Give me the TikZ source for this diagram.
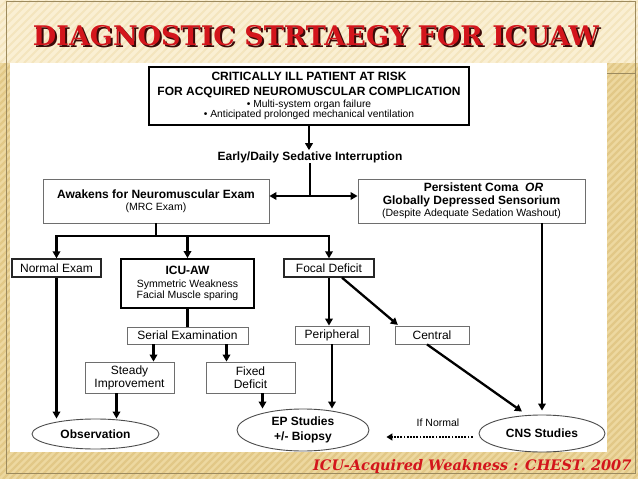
\documentclass[tikz,border=0pt]{standalone}
\usepackage{fontspec}
\setmainfont{Liberation Sans}
\newfontfamily\titlefont{DejaVu Serif}
\usetikzlibrary{arrows.meta,shapes.geometric}
\definecolor{bgcream}{HTML}{FAEFD3}
\definecolor{topstripe}{HTML}{F4E5BE}
\definecolor{bandgold}{HTML}{EDD8A0}
\definecolor{bandstripe}{HTML}{E2C887}
\definecolor{framec}{HTML}{9C8A5E}
\definecolor{titlered}{HTML}{D3151C}
\definecolor{shadowc}{HTML}{3A0A08}
\definecolor{thinline}{HTML}{6E6E6E}
\tikzset{
  fs/.style={font=\fontsize{12}{14}\selectfont},
  thinbox/.style={draw=thinline, line width=0.8pt, fill=white, inner sep=0pt, align=center, fs},
  midbox/.style={draw=black!85, line width=1.3pt, fill=white, inner sep=0pt, align=center, fs},
  thickbox/.style={draw=black, line width=1.8pt, fill=white, inner sep=0pt, align=center, fs},
  oval/.style={ellipse, draw=black!70, line width=0.9pt, fill=white, inner sep=0pt, align=center, font=\bfseries\fontsize{12}{15}\selectfont},
  conn/.style={line width=2.3pt, draw=black},
  arr/.style={conn, -{Triangle[length=7pt,width=7.5pt]}},
  dotarr/.style={line width=2.2pt, draw=black, dash pattern=on 1.8pt off 1.4pt, -{Triangle[length=6pt,width=7pt]}},
  subtxt/.style={font=\fontsize{10.5}{12}\selectfont},
  titletxt/.style={font=\titlefont\bfseries\fontsize{27}{30}\selectfont},
}
\begin{document}
\begin{tikzpicture}[x=1pt,y=-1pt]
\useasboundingbox (0,0) rectangle (638,479);
% background
\fill[bgcream] (0,0) rectangle (638,479);
\begin{scope}
  \clip (0,0) rectangle (638,63);
  \foreach \i in {-80,-72,...,640} \draw[topstripe, line width=2pt] (\i,63) -- ++(63,-63);
\end{scope}
\fill[bandgold] (0,63) rectangle (10,479);
\fill[bandgold] (607,63) rectangle (638,479);
\fill[bandgold] (0,452) rectangle (638,479);
\begin{scope}
  \clip (0,63) rectangle (10,479) (607,63) rectangle (638,479) (0,452) rectangle (638,479);
  \foreach \i in {-480,-473,...,640} \draw[bandstripe, line width=2.2pt] (\i,479) -- ++(479,-479);
\end{scope}
\draw[framec, line width=0.8pt] (6,1) rectangle (635,473);
\draw[framec, line width=0.8pt] (607,73) -- (635,73);
\fill[white] (10,63) rectangle (607,452);
% title
\node[titletxt, text=shadowc] (titleshadow) at (318,37.5) {DIAGNOSTIC STRTAEGY FOR ICUAW};
\node[titletxt, text=titlered] (title) at (316,35.5) {DIAGNOSTIC STRTAEGY FOR ICUAW};
% nodes
\node[thickbox, minimum width=320pt, minimum height=58pt, font=\bfseries\fontsize{12}{15}\selectfont] (top) at (309,96)
  {CRITICALLY ILL PATIENT AT RISK\\FOR ACQUIRED NEUROMUSCULAR COMPLICATION\\[-3pt]
   {\mdseries\fontsize{10.3}{11}\selectfont • Multi-system organ failure}\\[-5pt]
   {\mdseries\fontsize{10.3}{11}\selectfont • Anticipated prolonged mechanical ventilation}};
\node[font=\bfseries\fontsize{12}{14}\selectfont, inner sep=1pt] (early) at (310,157) {Early/Daily Sedative Interruption};
\node[thinbox, minimum width=226pt, minimum height=44pt] (awake) at (156,201)
  {{\bfseries Awakens for Neuromuscular Exam}\\[-2pt]{\fontsize{10.5}{12}\selectfont (MRC Exam)}};
\node[thinbox, minimum width=227pt, minimum height=44pt] (persist) at (471.5,201)
  {\hspace*{24pt}{\bfseries Persistent Coma \ \textit{OR}}\\[-1pt]{\bfseries Globally Depressed Sensorium}\\[-2pt]{\fontsize{10.5}{12}\selectfont (Despite Adequate Sedation Washout)}};
\node[midbox, minimum width=89pt, minimum height=18pt] (norm) at (56.5,268) {Normal Exam};
\node[thickbox, minimum width=133pt, minimum height=49pt] (icu) at (187.5,283.5)
  {{\bfseries ICU-AW}\\[-1pt]{\fontsize{10.5}{12}\selectfont Symmetric Weakness}\\[-3.5pt]{\fontsize{10.5}{12}\selectfont Facial Muscle sparing}};
\node[midbox, minimum width=90pt, minimum height=18pt] (focal) at (329,268) {Focal Deficit};
\node[thinbox, minimum width=121pt, minimum height=17pt] (serial) at (187.5,335.5) {Serial Examination};
\node[thinbox, minimum width=74pt, minimum height=18pt] (periph) at (332,335) {Peripheral};
\node[thinbox, minimum width=74pt, minimum height=18pt] (central) at (432,335) {Central};
\node[thinbox, minimum width=89pt, minimum height=31pt] (steady) at (129.5,377.5) {Steady\\[-1pt]Improvement};
\node[thinbox, minimum width=89pt, minimum height=31pt] (fixed) at (250.5,377.5) {Fixed\\[-1pt]Deficit};
\node[oval, minimum width=127pt, minimum height=30pt] (obs) at (95.5,434) {Observation};
\node[oval, minimum width=132pt, minimum height=42pt] (ep) at (303,430) {EP Studies\\+/- Biopsy};
\node[oval, minimum width=126pt, minimum height=37pt] (cns) at (542,433.5) {CNS Studies};
\node[subtxt] (ifnorm) at (438,423) {If Normal};
% junction coordinates
\coordinate (j1) at (311,196);
\coordinate (bus) at (0,236);
% connectors
\draw[arr] (top.south) -- (top.south |- early.north);
\draw[conn, line cap=rect] (early.south) -- (early.south |- j1);
\draw[arr] (early.south |- j1) -- (j1 -| awake.east);
\draw[arr] (early.south |- j1) -- (j1 -| persist.west);
\draw[conn] (awake.south) -- (awake.south |- bus);
\draw[conn, line cap=rect] (norm.north |- bus) -- (focal.north |- bus);
\draw[arr] (norm.north |- bus) -- (norm.north);
\draw[arr] (icu.north |- bus) -- (icu.north);
\draw[arr] (focal.north |- bus) -- (focal.north);
\draw[conn] (icu.south) -- (serial.north);
\draw[arr] ([xshift=-34pt]serial.south) -- ([xshift=-34pt]serial.south |- steady.north);
\draw[arr] ([xshift=39pt]serial.south) -- ([xshift=39pt]serial.south |- fixed.north);
\draw[arr] (norm.south) -- (norm.south |- obs.north);
\draw[arr] ([xshift=-13pt]steady.south) -- ([xshift=-13pt]steady.south |- obs.north);
\draw[arr] ([xshift=12pt]fixed.south) -- ([xshift=12pt]fixed.south |- ep.north);
\draw[arr] (focal.south) -- (focal.south |- periph.north);
\draw[arr, shorten >=1pt] ([xshift=13pt]focal.south) -- ([xshift=4pt]central.north west);
\draw[arr] (periph.south) -- (periph.south |- ep.north);
\draw[arr] ([xshift=-5pt]central.south) -- ([xshift=-20pt,yshift=3pt]cns.north);
\draw[arr, shorten >=4pt] (cns.north |- persist.south) -- (cns.north);
\draw[dotarr] ([xshift=-6pt,yshift=-3.5pt]cns.west) -- ([xshift=17pt,yshift=-7pt]ep.east);
% footer
\node[font=\titlefont\bfseries\itshape\fontsize{14.5}{16}\selectfont, text=titlered, anchor=base west, inner sep=0pt] (foot) at (313,470) {ICU-Acquired Weakness : CHEST. 2007};
\end{tikzpicture}
\end{document}
